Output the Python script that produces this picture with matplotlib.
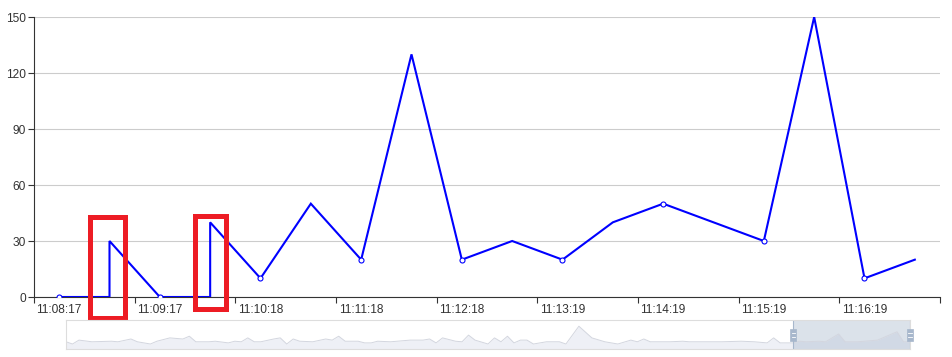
import numpy as np
import matplotlib
matplotlib.use('Agg')
from matplotlib import pyplot as plt
from matplotlib.patches import Rectangle

plt.rcParams['font.family'] = ['Liberation Sans', 'DejaVu Sans']

# time categories (every other one is labelled)
times = ['11:08:17', '11:08:47', '11:09:17', '11:09:47', '11:10:18', '11:10:48',
         '11:11:18', '11:11:48', '11:12:18', '11:12:48', '11:13:19', '11:13:49',
         '11:14:19', '11:14:49', '11:15:19', '11:15:49', '11:16:19', '11:16:49']

# series: category index and value (two values at cat 1 and cat 3 -> vertical jumps)
cat_idx = [0, 1, 1, 2, 3, 3, 4, 5, 6, 7, 8, 9, 10, 11, 12, 13, 14, 15, 16, 17]
values = [0, 0, 30, 0, 0, 40, 10, 50, 20, 130, 20, 30, 20, 40, 50, 40, 30, 150, 10, 20]

# data zoom shadow (whole record), sample index and value
shadow_idx = [0, 1, 2, 4, 7, 8, 10, 11, 13, 14, 16, 18, 19, 20, 22, 23, 25, 26, 27, 28,
              29, 30, 32, 33, 34, 35, 36, 38, 40, 41, 42, 43, 45, 46, 47, 48, 50, 53, 55, 56,
              57, 58, 60, 61, 62, 63, 65, 66, 67, 68, 69, 70, 71, 72, 74, 76, 77, 79, 81, 83,
              85, 87, 88, 89, 90, 93, 95, 96, 99, 101, 104, 106, 108, 109, 110, 112, 113, 114,
              116, 117, 119, 120, 122, 125, 128, 129, 130]
shadow_val = [65, 45, 80, 65, 70, 65, 90, 65, 45, 70, 100, 90, 115, 65, 65, 70, 55, 70, 65, 100,
              65, 65, 90, 100, 45, 90, 70, 65, 90, 80, 115, 70, 70, 55, 55, 70, 65, 80, 80, 90,
              55, 100, 70, 65, 125, 80, 45, 100, 65, 115, 55, 80, 80, 45, 65, 65, 45, 205, 100, 65,
              45, 80, 65, 90, 65, 65, 70, 65, 65, 65, 70, 65, 55, 100, 55, 55, 70, 65,
              70, 65, 135, 65, 65, 80, 155, 65, 65]
window = (112, 130)

W, H = 952, 357
fig = plt.figure(figsize=(W / 100, H / 100), dpi=100)
ax = fig.add_axes([34 / W, 1 - 297 / H, 906 / W, 280 / H])

ax.plot(cat_idx, values, color='#0000ff', lw=1.5, solid_joinstyle='miter', zorder=3)
even = [i for i, c in enumerate(cat_idx) if c % 2 == 0]
ax.plot([cat_idx[i] for i in even], [values[i] for i in even], 'o', ms=3.6,
        mfc='white', mec='#0000ff', mew=0.8, zorder=4)

ax.set_xlim(-0.5, len(times) - 0.5)
ax.set_ylim(0, 150)
ax.set_yticks(np.arange(0, 151, 30))
ax.grid(axis='y', color='#cccccc', lw=0.8)
ax.set_axisbelow(True)

ax.set_xticks(np.arange(-0.5, len(times), 2))
ax.set_xticklabels([])
ax.set_xticks(range(0, len(times), 2), minor=True)
ax.set_xticklabels(times[::2], minor=True)
ax.tick_params(axis='x', which='major', length=4, width=0.8, color='#333333')
ax.tick_params(axis='x', which='minor', length=0, pad=5, labelsize=8.6, labelcolor='#333333')
ax.tick_params(axis='y', length=4, width=0.8, color='#333333', pad=2,
               labelsize=8.6, labelcolor='#333333')
for s in ['top', 'right']:
    ax.spines[s].set_visible(False)
for s in ['left', 'bottom']:
    ax.spines[s].set_color('#333333')
    ax.spines[s].set_linewidth(0.8)

# red highlight boxes around the jumps
red = '#ed1c24'
ax.add_patch(Rectangle((0.62, -11.5), 0.68, 54.1, fill=False, ec=red, lw=3.6,
                       joinstyle='miter', clip_on=False, zorder=5))
ax.add_patch(Rectangle((2.70, -6.4), 0.62, 49.9, fill=False, ec=red, lw=3.6,
                       joinstyle='miter', clip_on=False, zorder=5))

# data zoom slider
sz = fig.add_axes([66 / W, 1 - 349 / H, 844 / W, 29 / H])
sz.fill_between(shadow_idx, shadow_val, color='#eef0f6', lw=0)
sz.plot(shadow_idx, shadow_val, color='#d3d6df', lw=0.7)
sz.set_xlim(0, 130)
sz.set_ylim(0, 261)
sz.set_xticks([])
sz.set_yticks([])
for s in sz.spines.values():
    s.set_color('#dddddd')
    s.set_linewidth(0.8)
sz.axvspan(window[0], window[1], color='#a7b7cc', alpha=0.4, lw=0)
for wx in window:
    sz.axvline(wx, color='#a7b7cc', lw=0.8)
    sz.add_patch(Rectangle((wx - 0.45, 70), 0.9, 110, fc='#a7b7cc', ec='#a7b7cc',
                           lw=0.5, clip_on=False, zorder=5))
    sz.plot([wx - 0.25, wx + 0.25], [110, 110], color='white', lw=0.6, zorder=6, clip_on=False)
    sz.plot([wx - 0.25, wx + 0.25], [140, 140], color='white', lw=0.6, zorder=6, clip_on=False)

fig.savefig('out.png', dpi=100)
